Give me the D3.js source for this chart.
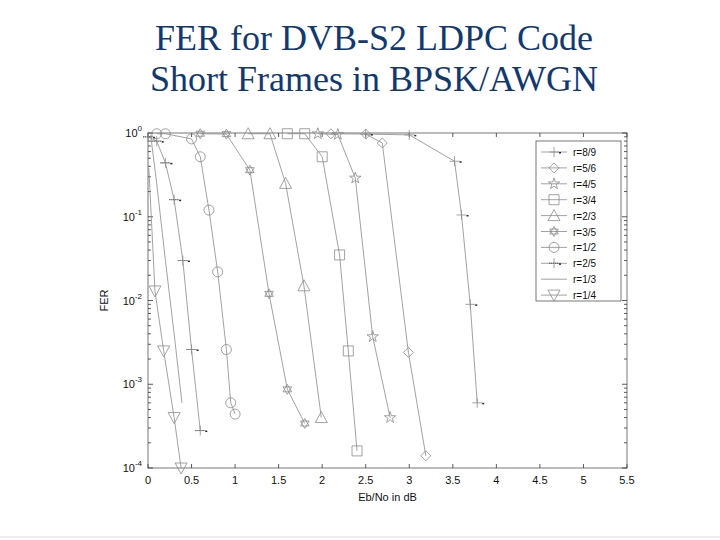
<!DOCTYPE html>
<html><head><meta charset="utf-8">
<script src="https://cdn.jsdelivr.net/npm/d3@7"></script>
<style>body{margin:0;background:#fff}</style>
</head><body>
<svg id="chart" width="720" height="540"></svg>
<script>
// data: [Eb/No, FER]
const r89 = [[2.5,0.97],[3.0,0.95],[3.52,0.46],[3.6,0.105],[3.7,0.009],[3.78,0.0006]];
const r56 = [[2.1,0.98],[2.5,0.97],[2.69,0.76],[2.99,0.0024],[3.19,0.00014]];
const r45 = [[1.95,0.98],[2.18,0.96],[2.38,0.29],[2.58,0.0037],[2.78,0.0004]];
const r34 = [[1.6,0.98],[1.8,0.98],[2.0,0.52],[2.2,0.035],[2.3,0.0025],[2.4,0.00016]];
const r23 = [[1.15,0.98],[1.4,0.98],[1.58,0.25],[1.79,0.015],[1.99,0.0004]];
const r35 = [[0.6,0.98],[0.9,0.97],[1.17,0.36],[1.39,0.012],[1.6,0.00087],[1.8,0.00034]];
const r12 = [[0.1,0.98],[0.2,0.98],[0.5,0.85],[0.6,0.52],[0.7,0.12],[0.8,0.022],[0.9,0.0026],[0.95,0.0006],[1.0,0.00044]];
const r25 = [[0.0,0.9],[0.1,0.8],[0.2,0.44],[0.3,0.16],[0.4,0.03],[0.5,0.0026],[0.6,0.00028]];
const r13 = [[0.03,0.95],[0.1,0.25],[0.2,0.03],[0.3,0.004],[0.39,0.0006]];
const r14 = [[0.08,0.013],[0.18,0.0025],[0.3,0.0004],[0.38,0.0001]];
const r14Start = [0.01,0.38]; // line start, no marker there

const seriesNames = ["r=8/9","r=5/6","r=4/5","r=3/4","r=2/3","r=3/5","r=1/2","r=2/5","r=1/3","r=1/4"];
const seriesData = [r89,r56,r45,r34,r23,r35,r12,r25,r13,r14];
const seriesMarks = ["plus","diamond","star","square","triangle","hexagram","circle","dotplus","none","tridown"];
const xTicks = [0,0.5,1,1.5,2,2.5,3,3.5,4,4.5,5,5.5];
const yTicks = [0,-1,-2,-3,-4];

const svg = d3.select("#chart");
const m = {l:148, r:627, t:133, b:468};
const x = d3.scaleLinear().domain([0,5.5]).range([m.l,m.r]);
const y = d3.scaleLog().domain([1e-4,1]).range([m.b,m.t]);
const grey = "#8a8a8a";

// title
svg.append("text").attr("x",374).attr("y",50).attr("text-anchor","middle")
  .attr("font-family","Liberation Serif").attr("font-size",36).attr("fill","#12396f")
  .text("FER for DVB-S2 LDPC Code");
svg.append("text").attr("x",374).attr("y",91).attr("text-anchor","middle")
  .attr("font-family","Liberation Serif").attr("font-size",36).attr("fill","#12396f")
  .text("Short Frames in BPSK/AWGN");

svg.append("rect").attr("x",m.l).attr("y",m.t).attr("width",m.r-m.l).attr("height",m.b-m.t)
  .attr("fill","none").attr("stroke","#555").attr("stroke-width",0.8);

// ticks inward on all sides
const tk = svg.append("g").attr("stroke","#333").attr("stroke-width",0.8);
xTicks.forEach(v => {
  tk.append("line").attr("x1",x(v)).attr("x2",x(v)).attr("y1",m.b).attr("y2",m.b-4);
  tk.append("line").attr("x1",x(v)).attr("x2",x(v)).attr("y1",m.t).attr("y2",m.t+4);
});
for (let e = -4; e <= 0; e++) {
  for (let k = 1; k <= 9; k++) {
    const v = k * Math.pow(10,e);
    if (v > 1) break;
    const len = k === 1 ? 5 : 3;
    tk.append("line").attr("x1",m.l).attr("x2",m.l+len).attr("y1",y(v)).attr("y2",y(v));
    tk.append("line").attr("x1",m.r).attr("x2",m.r-len).attr("y1",y(v)).attr("y2",y(v));
  }
}
const lab = svg.append("g").attr("font-family","Liberation Sans").attr("font-size",11).attr("fill","#111");
xTicks.forEach(v => lab.append("text").attr("x",x(v)).attr("y",m.b+16).attr("text-anchor","middle").text(v));
yTicks.forEach(e => {
  const t = lab.append("text").attr("x",m.l-6).attr("y",y(Math.pow(10,e))+4).attr("text-anchor","end");
  t.append("tspan").text("10");
  t.append("tspan").attr("dy",-6).attr("font-size",8).text(e);
});
lab.append("text").attr("x",(m.l+m.r)/2).attr("y",m.b+33).attr("text-anchor","middle").text("Eb/No in dB");
lab.append("text").attr("transform",`translate(${m.l-40},${(m.t+m.b)/2}) rotate(-90)`).attr("text-anchor","middle").text("FER");

function drawMark(g, type, cx, cy) {
  const s = 5;
  const st = {fill:"none", stroke:grey, "stroke-width":0.8};
  let p = null;
  if (type === "plus" || type === "dotplus") {
    p = `M${cx-s},${cy}H${cx+s}M${cx},${cy-s}V${cy+s}`;
    if (type === "dotplus") {
      g.append("path").attr("d",`M${cx-s},${cy}H${cx+s}`).attr("stroke","#222").attr("stroke-dasharray","1,1");
    }
    g.append("rect").attr("x",cx+5).attr("y",cy).attr("width",2).attr("height",1.5).attr("fill","#222");
  } else if (type === "diamond") p = `M${cx},${cy-s}L${cx+s},${cy}L${cx},${cy+s}L${cx-s},${cy}Z`;
  else if (type === "star") p = d3.symbol(d3.symbolStar,40)();
  else if (type === "square") p = `M${cx-s},${cy-s}h${2*s}v${2*s}h${-2*s}Z`;
  else if (type === "triangle") p = `M${cx},${cy-s-1}L${cx+s+1},${cy+s}L${cx-s-1},${cy+s}Z`;
  else if (type === "tridown") p = `M${cx},${cy+s+1}L${cx+s+1},${cy-s}L${cx-s-1},${cy-s}Z`;
  else if (type === "hexagram") p = `M${cx},${cy-s}L${cx+4.3},${cy+2.5}L${cx-4.3},${cy+2.5}ZM${cx},${cy+s}L${cx+4.3},${cy-2.5}L${cx-4.3},${cy-2.5}Z`;
  else if (type === "circle") { g.append("circle").attr("cx",cx).attr("cy",cy).attr("r",s).attr("fill","none").attr("stroke",grey).attr("stroke-width",0.8); return; }
  if (!p) return;
  const path = g.append("path").attr("d",p);
  if (type === "star") path.attr("transform",`translate(${cx},${cy})`);
  Object.entries(st).forEach(([k,v]) => path.attr(k,v));
}

const line = d3.line().x(d => x(d[0])).y(d => y(d[1]));
seriesData.forEach((data,i) => {
  const g = svg.append("g");
  const pts = data === r14 ? [r14Start].concat(data) : data;
  g.append("path").attr("d",line(pts)).attr("fill","none").attr("stroke",grey).attr("stroke-width",0.8);
  data.forEach(d => drawMark(g, seriesMarks[i], x(d[0]), y(d[1])));
});

// legend
const lg = svg.append("g");
lg.append("rect").attr("x",536).attr("y",141).attr("width",85).attr("height",160)
  .attr("fill","#fff").attr("stroke","#555").attr("stroke-width",0.8);
seriesNames.forEach((n,i) => {
  const yy = 152 + i*15.9;
  lg.append("line").attr("x1",541).attr("x2",567).attr("y1",yy).attr("y2",yy).attr("stroke",grey).attr("stroke-width",0.8);
  drawMark(lg, seriesMarks[i], 554, yy);
  lg.append("text").attr("x",573).attr("y",yy+4).attr("font-family","Liberation Sans").attr("font-size",10).attr("fill","#111").text(n);
});

svg.append("line").attr("x1",0).attr("x2",720).attr("y1",537).attr("y2",537).attr("stroke","#ddd");
</script>
</body></html>
